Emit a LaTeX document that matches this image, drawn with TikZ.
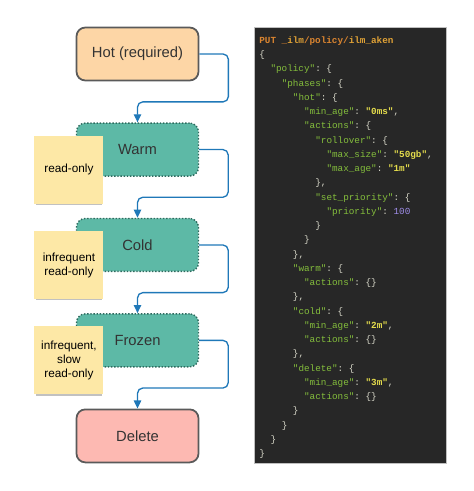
\documentclass[tikz,border=0pt]{standalone}
\usepackage{fontspec}
\setmainfont{Liberation Sans}
\setmonofont{Liberation Mono}
\usepackage{tikz}
\usetikzlibrary{arrows.meta,positioning,calc,shadows}
\definecolor{ilmHot}{HTML}{FDD6A6}
\definecolor{ilmPhase}{HTML}{5DB9A6}
\definecolor{ilmPhaseLine}{HTML}{2E6A5E}
\definecolor{ilmDelete}{HTML}{FDB9B2}
\definecolor{ilmNote}{HTML}{FDE8A6}
\definecolor{ilmEdge}{HTML}{5A5A5A}
\definecolor{ilmFlow}{HTML}{1F78B8}
\definecolor{codeBg}{HTML}{272727}
\definecolor{codePun}{HTML}{D6D6C8}
\definecolor{codeKey}{HTML}{84BE3C}
\definecolor{codeStr}{HTML}{E4DC4C}
\definecolor{codeNum}{HTML}{A08EEA}
\definecolor{codePut}{HTML}{DB8530}
\definecolor{codeIdx}{HTML}{E0A236}

\newcommand{\ky}[1]{\textcolor{codeKey}{"#1"}}
\newcommand{\sv}[1]{\textcolor{codeStr}{\bfseries"#1"}}
\newcommand{\nm}[1]{\textcolor{codeNum}{#1}}

\begin{document}
\begin{tikzpicture}[x=0.02cm, y=-0.02cm, node distance=0.82cm,
  every node/.style={font=\fontsize{8.4}{10}\selectfont, text=black!80},
  phasebox/.style={rounded corners=5pt, minimum width=2.44cm, minimum height=1.06cm},
  hotbox/.style={phasebox, draw=ilmEdge, line width=1pt, fill=ilmHot},
  warmbox/.style={phasebox, draw=ilmPhaseLine, line width=0.8pt, densely dotted, fill=ilmPhase},
  delbox/.style={phasebox, draw=ilmEdge, line width=1pt, fill=ilmDelete},
  note/.style={fill=ilmNote, minimum width=1.38cm, minimum height=1.36cm, align=center,
    font=\fontsize{6.7}{8.1}\selectfont, text=black,
    drop shadow={shadow xshift=0pt, shadow yshift=-1.6pt, shadow scale=0.96, fill=black!70, opacity=0.35}},
  flow/.style={draw=ilmFlow, line width=0.75pt, rounded corners=3pt, -{Triangle[length=4.6pt,width=4.2pt]}},
  codeline/.style={anchor=west, inner sep=0pt, text height=1.5ex, text depth=.3ex,
    font=\ttfamily\fontsize{5.3}{8}\selectfont, text=codePun}]

  \useasboundingbox (0,0) rectangle (474,491);

  % phases
  \node[hotbox] (hot) at (137.5,54) {Hot (required)};
  \node[warmbox, below=of hot] (warm) {Warm};
  \node[warmbox, below=of warm] (cold) {Cold};
  \node[warmbox, below=of cold] (frozen) {Frozen};
  \node[delbox, below=of frozen] (delete) {Delete};

  % notes on the phases
  \node[note, anchor=north east] (warmnote) at ($(warm.north west)+(28,13)$) {read-only};
  \node[note, anchor=north east] (coldnote) at ($(cold.north west)+(28,13)$) {infrequent\\read-only};
  \node[note, anchor=north east] (frozennote) at ($(frozen.north west)+(28,13)$) {infrequent,\\slow\\read-only};

  % flow
  \draw[flow] (hot.east) -- ++(29,0) |- ($(hot.south)!.5!(warm.north)$) -- (warm.north);
  \draw[flow] (warm.east) -- ++(29,0) |- ($(warm.south)!.5!(cold.north)$) -- (cold.north);
  \draw[flow] (cold.east) -- ++(29,0) |- ($(cold.south)!.5!(frozen.north)$) -- (frozen.north);
  \draw[flow] (frozen.east) -- ++(29,0) |- ($(frozen.south)!.5!(delete.north)$) -- (delete.north);

  % policy request
  \node[fill=codeBg, draw=black!25, line width=0.4pt, minimum width=3.84cm, minimum height=8.72cm] (code) at (350,245) {};
  \node[codeline] (line0) at (259,37.7) {\bfseries\textcolor{codePut}{PUT \_}\textcolor{codeIdx}{ilm}\textcolor{codePut}{/policy/}\textcolor{codeIdx}{ilm\_aken}};
  \foreach \lvl/\txt [count=\i] in {
    0/{\{},
    1/{\ky{policy}: \{},
    2/{\ky{phases}: \{},
    3/{\ky{hot}: \{},
    4/{\ky{min\_age}: \sv{0ms},},
    4/{\ky{actions}: \{},
    5/{\ky{rollover}: \{},
    6/{\ky{max\_size}: \sv{50gb},},
    6/{\ky{max\_age}: \sv{1m}},
    5/{\},},
    5/{\ky{set\_priority}: \{},
    6/{\ky{priority}: \nm{100}},
    5/{\}},
    4/{\}},
    3/{\},},
    3/{\ky{warm}: \{},
    4/{\ky{actions}: \{\}},
    3/{\},},
    3/{\ky{cold}: \{},
    4/{\ky{min\_age}: \sv{2m},},
    4/{\ky{actions}: \{\}},
    3/{\},},
    3/{\ky{delete}: \{},
    4/{\ky{min\_age}: \sv{3m},},
    4/{\ky{actions}: \{\}},
    3/{\}},
    2/{\}},
    1/{\}},
    0/{\}}}
    \node[codeline] (line\i) at (259+11.2*\lvl, 37.7+14.25*\i) {\txt};
\end{tikzpicture}
\end{document}
